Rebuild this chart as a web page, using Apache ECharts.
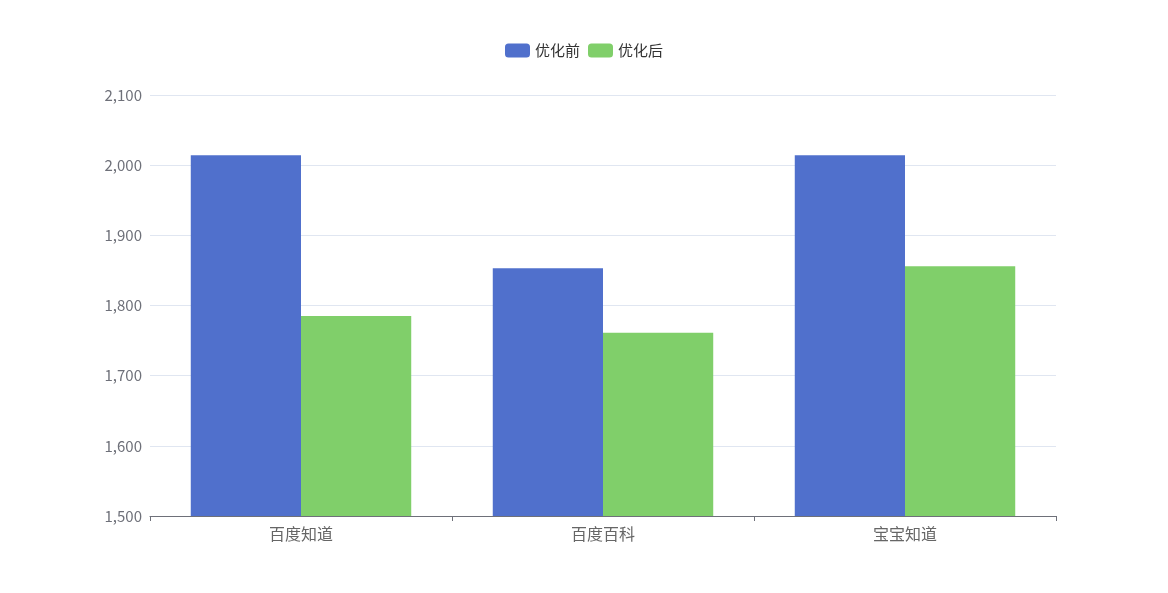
<!DOCTYPE html>
<html><head><meta charset="utf-8">
<script src="https://cdn.jsdelivr.net/npm/echarts@6/dist/echarts.min.js"></script>
<style>html,body{margin:0;padding:0;background:#fff}#c{width:1168px;height:593px}</style>
</head><body><div id="c"></div>
<script>
const categories = ['百度知道','百度百科','宝宝知道'];
const before = [2014, 1853, 2014];
const after = [1785, 1761, 1856];
const chart = echarts.init(document.getElementById('c'));
chart.setOption({
  textStyle:{fontFamily:'Noto Sans CJK SC'},
  legend:{top:38, itemWidth:25, itemHeight:14, textStyle:{fontSize:15,color:'#333'}, data:['优化前','优化后']},
  grid:{left:150,right:112,top:95,bottom:77},
  xAxis:{type:'category',data:categories,axisLabel:{fontSize:16,color:'#666',margin:10},axisTick:{show:true},axisLine:{lineStyle:{color:'#6E7079'}}},
  yAxis:{type:'value',min:1500,max:2100,interval:100,axisLabel:{fontSize:15,color:'#6E7079'},splitLine:{lineStyle:{color:'#E0E6F1'}}},
  series:[
    {name:'优化前',type:'bar',data:before,barGap:'0%',barCategoryGap:'27%',itemStyle:{color:'#5070CC'}},
    {name:'优化后',type:'bar',data:after,itemStyle:{color:'#80CF6A'}}
  ]
});
</script></body></html>
